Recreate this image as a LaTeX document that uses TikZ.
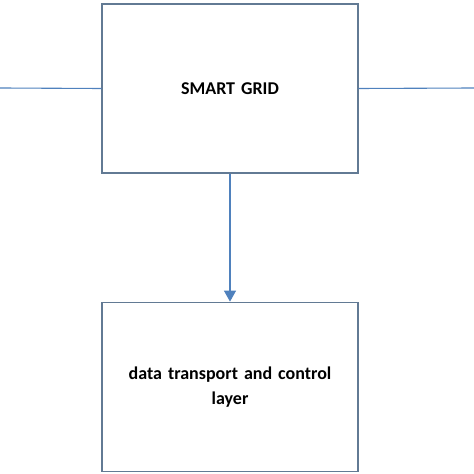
\documentclass[tikz,border=0pt]{standalone}
\usepackage{fontspec}
\setmainfont{Carlito}
\usetikzlibrary{positioning, arrows.meta}
\definecolor{boxedge}{RGB}{98,122,148}
\definecolor{linkblue}{RGB}{79,129,189}

\begin{document}
\begin{tikzpicture}[x=1pt,y=1pt,node distance=128pt,
        layer/.style={draw=boxedge,line width=1.3pt,
                      minimum width=256pt,minimum height=169pt,
                      align=center,font=\bfseries\fontsize{18}{25}\selectfont,
                      text width=240pt},
        link/.style={draw=linkblue,line width=1.1pt},
        arrow/.style={link,-{Triangle[width=12pt,length=11pt]}}]
    \useasboundingbox (0,0) rectangle (474,474);
    \node[layer] (grid) at (230,385.5) {SMART GRID};
    \node[layer,below=of grid] (transport) {data transport and control\\layer};
    \coordinate (west) at (0,386);
    \coordinate (east) at (474,386);
    \draw[link] (west) -- (grid.west);
    \draw[link] (grid.east) -- (east);
    \draw[arrow] (grid) -- (transport);
\end{tikzpicture}
\end{document}
